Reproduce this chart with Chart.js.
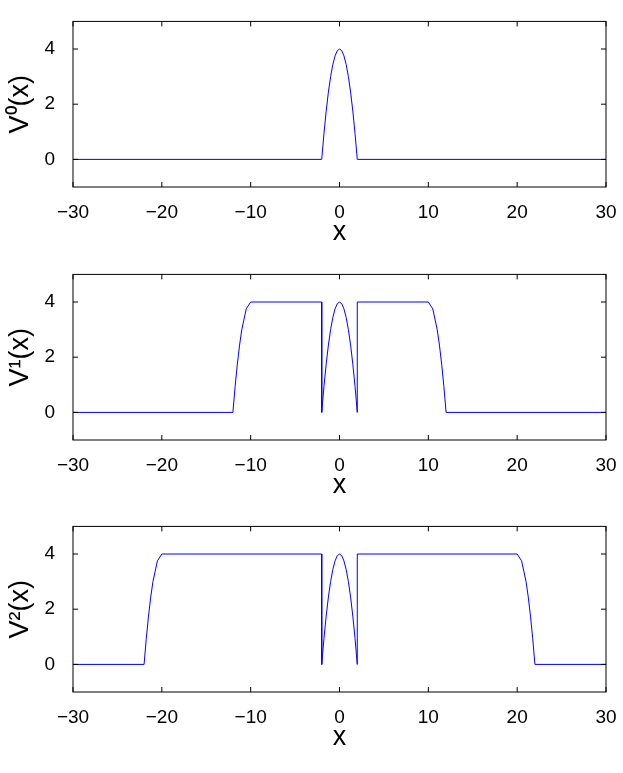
<!DOCTYPE html>
<html><head><meta charset="utf-8">
<script src="https://cdn.jsdelivr.net/npm/chart.js@4"></script>
<style>body{margin:0;background:#fff;width:623px;height:773px;position:relative;overflow:hidden}
.c{position:absolute;left:0;width:623px;height:253px}</style></head><body>
<div class="c" style="top:0"><canvas id="c0"></canvas></div>
<div class="c" style="top:253px"><canvas id="c1"></canvas></div>
<div class="c" style="top:505px"><canvas id="c2"></canvas></div>
<script>
const xTicks=[-30,-20,-10,0,10,20,30];
const yTicks=[0,2,4];
const yLabels=['V\u2070(x)','V\u00b9(x)','V\u00b2(x)'];
const peakX=[-2,-1.75,-1.5,-1.25,-1,-0.75,-0.5,-0.25,0,0.25,0.5,0.75,1,1.25,1.5,1.75,2];
const peakY=[0,0.94,1.75,2.44,3,3.44,3.75,3.94,4,3.94,3.75,3.44,3,2.44,1.75,0.94,0];
const v0X=[-30,...peakX,30];
const v0Y=[0,...peakY,0];
const v1X=[-30,-12,-11.75,-11.5,-11.25,-11,-10.5,-10,-2,...peakX,2,10,10.5,11,11.25,11.5,11.75,12,30];
const v1Y=[0,0,0.94,1.75,2.44,3,3.75,4,4,...peakY,4,4,3.75,3,2.44,1.75,0.94,0,0];
const v2X=[-30,-22,-21.75,-21.5,-21.25,-21,-20.5,-20,-2,...peakX,2,20,20.5,21,21.25,21.5,21.75,22,30];
const v2Y=[0,0,0.94,1.75,2.44,3,3.75,4,4,...peakY,4,4,3.75,3,2.44,1.75,0.94,0,0];
const series=[[v0X,v0Y],[v1X,v1Y],[v2X,v2Y]];
const frame={id:'frame',afterDraw(ch){const a=ch.chartArea,c=ch.ctx;c.save();c.strokeStyle='#000';c.lineWidth=1;
c.strokeRect(a.left,a.top,a.right-a.left,a.bottom-a.top);
const xs=ch.scales.x,ys=ch.scales.y;c.beginPath();
xTicks.forEach(v=>{const p=xs.getPixelForValue(v);c.moveTo(p,a.bottom);c.lineTo(p,a.bottom-5);c.moveTo(p,a.top);c.lineTo(p,a.top+5);});
yTicks.forEach(v=>{const p=ys.getPixelForValue(v);c.moveTo(a.left,p);c.lineTo(a.left+5,p);c.moveTo(a.right,p);c.lineTo(a.right-5,p);});
c.stroke();c.restore();}};
series.forEach((s,i)=>{
 new Chart(document.getElementById('c'+i),{type:'line',
  data:{datasets:[{data:s[0].map((x,j)=>({x,y:s[1][j]})),borderColor:'#0000ff',borderWidth:1,pointRadius:0,tension:0}]},
  options:{responsive:true,maintainAspectRatio:false,animation:false,
   layout:{padding:{top:-8,right:17}},
   plugins:{legend:{display:false},tooltip:{enabled:false}},
   scales:{
    x:{type:'linear',min:-30,max:30,afterBuildTicks:a=>{a.ticks=xTicks.map(v=>({value:v}))},
      afterFit:a=>{a.height=66},
      grid:{display:false},border:{display:false},
      ticks:{color:'#000',font:{family:'Liberation Sans',size:19},maxRotation:0,padding:6,callback:v=>v<0?'\u2212'+(-v):v},
      title:{display:true,text:'x',color:'#000',font:{family:'Liberation Sans',size:27},padding:{top:2}}},
    y:{min:-1,max:5,afterBuildTicks:a=>{a.ticks=yTicks.map(v=>({value:v}))},
      afterFit:a=>{a.width=73},
      grid:{display:false},border:{display:false},
      ticks:{color:'#000',font:{family:'Liberation Sans',size:19},padding:10},
      title:{display:true,text:yLabels[i],color:'#000',font:{family:'Liberation Sans',size:27},padding:{bottom:0}}}
   }},plugins:[frame]});
});
</script></body></html>
